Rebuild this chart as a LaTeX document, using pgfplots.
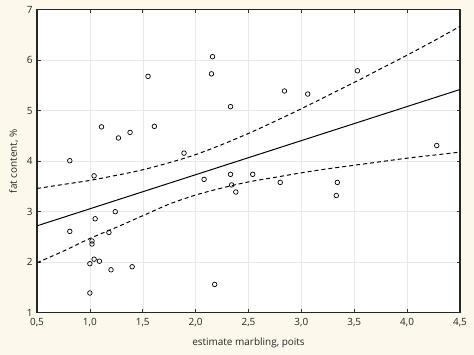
\documentclass[border=0pt]{standalone}
\usepackage{fontspec}
\setmainfont{Open Sans}
\usepackage{pgfplots}
\pgfplotsset{compat=1.18}
\definecolor{cream}{RGB}{252,248,236}
\definecolor{gridc}{RGB}{232,232,232}
\begin{document}
\begin{tikzpicture}
\fill[cream] (-37bp,-42.3bp) rectangle (437bp,312.7bp);
\begin{axis}[
  at={(0,0)}, anchor=south west,
  scale only axis, width=423bp, height=303bp,
  xmin=0.5, xmax=4.5, ymin=1, ymax=7,
  xtick={0.5,1,...,4.5}, ytick={1,2,...,7},
  xticklabels={{0,5},{1,0},{1,5},{2,0},{2,5},{3,0},{3,5},{4,0},{4,5}},
  /pgf/number format/assume math mode=true,
  tick align=inside, major tick length=3.5bp,
  tick style={black!80, line width=0.6bp},
  axis line style={black!85, line width=1.1bp},
  axis background/.style={fill=white},
  grid=major, major grid style={gridc, line width=0.5bp},
  font=\fontsize{10}{12}\selectfont,
  ticklabel style={font=\fontsize{10}{12}\selectfont, text=black!85},
  xticklabel style={yshift=-2.5bp},
  yticklabel style={xshift=-1bp},
  xlabel={estimate marbling, poits},
  ylabel={fat content, \%},
  x label style={at={(axis description cs:0.5,-0.1)}, anchor=center, text=black!85},
  y label style={at={(axis description cs:-0.055,0.5)}, anchor=center, text=black!85},
]
\addplot[only marks, mark=o, mark size=2.3bp, mark options={black, line width=0.7bp, fill=none}] coordinates {
(0.81,4.01)(1.04,3.71)(1.11,4.68)(1.27,4.46)(1.38,4.57)(1.55,5.68)(1.61,4.69)(1.89,4.16)(2.08,3.64)(2.15,5.73)(2.16,6.07)(2.33,5.08)(2.33,3.74)(2.84,5.39)(3.06,5.33)(3.53,5.79)(4.28,4.31)(2.54,3.74)(0.81,2.61)(1.05,2.86)(1.24,3.00)(1.18,2.59)(1.02,2.42)(1.02,2.36)(1.04,2.06)(1.00,1.97)(1.09,2.02)(1.20,1.85)(1.40,1.91)(1.00,1.39)(2.18,1.56)(2.34,3.53)(2.38,3.39)(2.80,3.58)(3.34,3.58)(3.33,3.32)
};
\addplot[black, line width=1bp] coordinates {(0.5,2.72)(4.5,5.42)};
\addplot[black, line width=1bp, dash pattern=on 4bp off 3bp, smooth] coordinates {
(0.5,3.46)(0.75,3.54)(1.0,3.62)(1.25,3.72)(1.5,3.83)(1.75,3.97)(2.0,4.13)(2.25,4.33)(2.5,4.55)(2.75,4.79)(3.0,5.04)(3.25,5.30)(3.5,5.56)(3.75,5.83)(4.0,6.10)(4.25,6.38)(4.5,6.67)
};
\addplot[black, line width=1bp, dash pattern=on 4bp off 3bp, smooth] coordinates {
(0.5,1.99)(0.75,2.22)(1.0,2.47)(1.25,2.69)(1.5,2.92)(1.75,3.15)(2.0,3.33)(2.25,3.47)(2.5,3.59)(2.75,3.68)(3.0,3.77)(3.25,3.85)(3.5,3.92)(3.75,3.99)(4.0,4.06)(4.25,4.12)(4.5,4.18)
};
\end{axis}
\pgfresetboundingbox
\path (-37bp,-42.3bp) rectangle (437bp,312.7bp);
\end{tikzpicture}
\end{document}
